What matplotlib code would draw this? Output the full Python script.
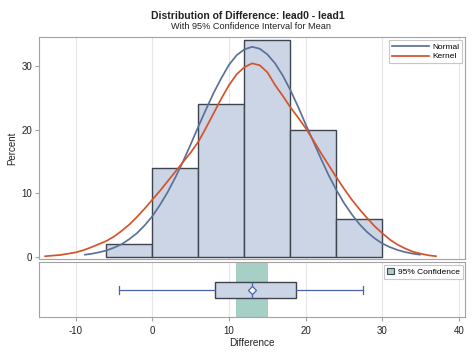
import numpy as np
import matplotlib
matplotlib.use("Agg")
import matplotlib.pyplot as plt
from matplotlib.lines import Line2D
from matplotlib.patches import Patch

plt.rcParams["font.family"] = ["Liberation Sans", "DejaVu Sans"]

# --------------------------------------------------
# Data
# --------------------------------------------------

bin_edges = [-6, 0, 6, 12, 18, 24, 30]
percent = [2, 14, 24, 34, 20, 6]

normal_x = [-8.8, -8, -7, -6, -5, -4, -3, -2, -1, 0, 1, 2, 3, 4, 5, 6, 7,
            8, 9, 10, 11, 12, 13, 14, 15, 16, 17, 18, 19, 20, 21, 22, 23,
            24, 25, 26, 27, 28, 29, 30, 31, 32, 33, 34, 34.9]
normal_y = [0.34, 0.47, 0.70, 1.0, 1.45, 2.0, 2.8, 3.75, 4.97, 6.4, 8.2,
            10.2, 12.5, 15.0, 17.7, 20.5, 23.2, 25.8, 28.1, 30.2, 31.7,
            32.6, 33.0, 32.7, 31.8, 30.4, 28.5, 26.2, 23.6, 20.8, 18.1,
            15.4, 12.8, 10.5, 8.45, 6.7, 5.15, 3.9, 2.9, 2.1, 1.52, 1.07,
            0.74, 0.5, 0.35]

kernel_x = [-14, -13, -12, -11, -10, -9, -8, -7, -6, -5, -4, -3, -2, -1, 0,
            1, 2, 3, 4, 5, 6, 7, 8, 9, 10, 11, 12, 13, 14, 15, 16, 17, 18,
            19, 20, 21, 22, 23, 24, 25, 26, 27, 28, 29, 30, 31, 32, 33, 34,
            35, 36, 37]
kernel_y = [0.1, 0.2, 0.3, 0.5, 0.7, 1.05, 1.5, 2.0, 2.5, 3.2, 4.1, 5.1,
            6.3, 7.6, 9.0, 10.4, 11.9, 13.4, 14.9, 16.4, 18.1, 20.3, 22.6,
            24.9, 27.0, 28.7, 29.8, 30.4, 30.1, 29.0, 27.0, 25.3, 23.5,
            21.9, 20.2, 18.3, 16.3, 14.4, 12.5, 10.7, 9.0, 7.5, 6.1, 4.8,
            3.7, 2.7, 1.9, 1.3, 0.8, 0.5, 0.25, 0.1]

box_stats = {
    "whislo": -4.35,
    "q1": 8.1,
    "med": 13.05,
    "q3": 18.75,
    "whishi": 27.45,
    "mean": 13.05,
}
ci_lo, ci_hi = 10.93, 15.06

x_ticks = [-10, 0, 10, 20, 30, 40]
y_ticks = [0, 10, 20, 30]

# --------------------------------------------------
# Styling
# --------------------------------------------------

BAR_FILL = "#cbd5e6"
BAR_EDGE = "#3f454e"
NORMAL_C = "#5b7197"
KERNEL_C = "#d4532a"
CI_C = "#a6cfc5"
WHISK_C = "#4a63ab"
FRAME_C = "#a3a3a3"
GRID_C = "#e6e6e6"
TEXT_C = "#222222"

fig = plt.figure(figsize=(4.74, 3.55), dpi=100)

ax = fig.add_axes([0.0823, 0.270, 0.899, 0.625])
axb = fig.add_axes([0.0823, 0.106, 0.899, 0.155])

xlim = (-14.8, 40.8)

# --------------------------------------------------
# Histogram panel
# --------------------------------------------------

for x in x_ticks:
    ax.axvline(x, color=GRID_C, linewidth=0.8, zorder=0)

widths = np.diff(bin_edges)
ax.bar(bin_edges[:-1], percent, width=widths, align="edge",
       color=BAR_FILL, edgecolor=BAR_EDGE, linewidth=1.0, zorder=2)

ax.plot(normal_x, normal_y, color=NORMAL_C, linewidth=1.25, zorder=3)
ax.plot(kernel_x, kernel_y, color=KERNEL_C, linewidth=1.25, zorder=3)

ax.set_xlim(*xlim)
ax.set_ylim(-0.36, 34.5)
ax.set_yticks(y_ticks)
ax.set_xticks(x_ticks)
ax.tick_params(axis="x", bottom=False, labelbottom=False)
ax.tick_params(axis="y", length=3, color=FRAME_C, labelsize=7,
               labelcolor=TEXT_C, pad=2)
ax.set_ylabel("Percent", fontsize=7, color=TEXT_C, labelpad=3)

for s in ax.spines.values():
    s.set_color(FRAME_C)

handles = [
    Line2D([], [], color=NORMAL_C, linewidth=1.25, label="Normal"),
    Line2D([], [], color=KERNEL_C, linewidth=1.25, label="Kernel"),
]
leg = ax.legend(handles=handles, loc="upper right", fontsize=6,
                handlelength=4.4, handletextpad=0.4, borderpad=0.35,
                labelspacing=0.2, fancybox=False, framealpha=1,
                borderaxespad=0.35)
leg.get_frame().set_edgecolor("#c8c8c8")
leg.get_frame().set_linewidth(0.8)

# --------------------------------------------------
# Box plot panel
# --------------------------------------------------

for x in x_ticks:
    axb.axvline(x, color=GRID_C, linewidth=0.8, zorder=0)

axb.axvspan(ci_lo, ci_hi, color=CI_C, zorder=1, linewidth=0)

axb.bxp([box_stats], positions=[0.5], widths=0.3, orientation="horizontal",
        showmeans=True, patch_artist=True, showfliers=False,
        boxprops=dict(facecolor=BAR_FILL, edgecolor=BAR_EDGE, linewidth=1.0),
        whiskerprops=dict(color=WHISK_C, linewidth=0.9),
        capprops=dict(color=WHISK_C, linewidth=0.9),
        medianprops=dict(color=WHISK_C, linewidth=0.9),
        meanprops=dict(marker="D", markersize=4, markerfacecolor="white",
                       markeredgecolor=WHISK_C, markeredgewidth=0.9),
        zorder=3)

axb.set_xlim(*xlim)
axb.set_ylim(0, 1)
axb.set_yticks([])
axb.set_xticks(x_ticks)
axb.set_xticklabels([str(t) for t in x_ticks])
axb.tick_params(axis="x", length=3, color=FRAME_C, labelsize=7,
                labelcolor=TEXT_C, pad=3)
axb.set_xlabel("Difference", fontsize=7.2, color=TEXT_C, labelpad=2)

for s in axb.spines.values():
    s.set_color(FRAME_C)

leg2 = axb.legend(handles=[Patch(facecolor=CI_C, edgecolor=BAR_EDGE,
                                 linewidth=0.8, label="95% Confidence")],
                  loc="upper right", fontsize=6, handlelength=0.8,
                  handleheight=0.8, handletextpad=0.5, borderpad=0.35,
                  fancybox=False, framealpha=1, borderaxespad=0.3)
leg2.get_frame().set_edgecolor("#c8c8c8")
leg2.get_frame().set_linewidth(0.8)

# --------------------------------------------------
# Titles
# --------------------------------------------------

fig.text(0.522, 0.956, "Distribution of Difference: lead0 - lead1",
         ha="center", va="center", fontsize=7.5, fontweight="bold",
         color=TEXT_C)
fig.text(0.530, 0.924, "With 95% Confidence Interval for Mean",
         ha="center", va="center", fontsize=6.6, color=TEXT_C)

fig.savefig("out.png", dpi=100)
